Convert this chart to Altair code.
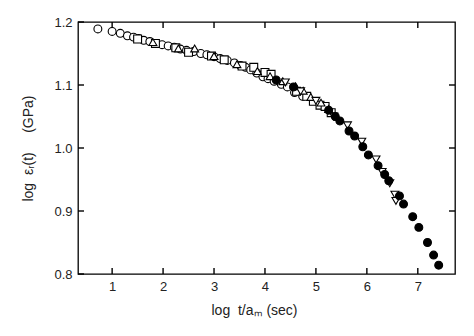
import altair as alt
import pandas as pd

# open circles
oc_x = [0.72, 1.00, 1.16, 1.30, 1.42, 1.52, 1.62, 1.74, 1.86, 1.98, 2.10, 2.22, 2.34, 2.46,
        2.60, 2.74, 2.86, 3.00, 3.12, 3.26, 3.40, 3.52, 3.62, 3.72, 3.84, 3.96, 4.06, 4.18,
        4.32, 4.44, 4.58, 4.74]
oc_y = [1.189, 1.185, 1.182, 1.178, 1.176, 1.174, 1.171, 1.169, 1.166, 1.164, 1.162, 1.160,
        1.157, 1.155, 1.153, 1.150, 1.148, 1.145, 1.142, 1.139, 1.135, 1.131, 1.128, 1.124,
        1.119, 1.113, 1.110, 1.106, 1.101, 1.097, 1.088, 1.082]
# open squares
sq_x = [1.50, 1.85, 2.25, 2.50, 2.95, 3.20, 3.55, 3.78, 4.00, 4.12, 4.62, 4.82, 4.95, 5.08,
        5.18, 5.30]
sq_y = [1.173, 1.166, 1.159, 1.152, 1.146, 1.140, 1.130, 1.128, 1.120, 1.117, 1.090, 1.082,
        1.074, 1.068, 1.066, 1.056]
# open triangles (up)
tu_x = [1.80, 2.30, 2.62, 3.00, 3.45, 3.85, 4.10, 4.35, 4.60, 4.75, 4.90, 5.10, 5.25]
tu_y = [1.168, 1.158, 1.158, 1.146, 1.133, 1.122, 1.114, 1.106, 1.098, 1.091, 1.081, 1.072,
        1.062]
# open triangles (down)
td_x = [4.40, 4.70, 5.00, 5.35, 5.62, 5.90, 6.18, 6.30, 6.45, 6.55, 6.57]
td_y = [1.104, 1.090, 1.075, 1.050, 1.036, 1.010, 0.982, 0.962, 0.944, 0.926, 0.916]
# filled circles
fc_x = [4.22, 4.56, 5.25, 5.38, 5.47, 5.65, 5.76, 5.92, 6.03, 6.22, 6.35, 6.43, 6.64, 6.72,
        6.90, 7.02, 7.19, 7.31, 7.41]
fc_y = [1.108, 1.097, 1.060, 1.050, 1.043, 1.027, 1.019, 1.002, 0.989, 0.972, 0.958, 0.948,
        0.924, 0.911, 0.891, 0.874, 0.850, 0.830, 0.814]

series = ["oc", "sq", "tu", "td", "fc"]
xs = [oc_x, sq_x, tu_x, td_x, fc_x]
ys = [oc_y, sq_y, tu_y, td_y, fc_y]
rows = []
for s, xx, yy in zip(series, xs, ys):
    for a, b in zip(xx, yy):
        rows.append({"series": s, "x": a, "y": b})
df = pd.DataFrame(rows)

x_ticks = [1, 2, 3, 4, 5, 6, 7]
y_ticks = [0.8, 0.9, 1.0, 1.1, 1.2]
y_ticks_right = [0.9, 1.0, 1.1]

W, H = 377, 252
FONT = "Liberation Sans"
NB = "\u00a0"
X_DOMAIN = [0.33, 7.73]
Y_DOMAIN = [0.8, 1.2]
TL = 6  # tick length in pixels
dx = (X_DOMAIN[1] - X_DOMAIN[0]) * TL / W
dy = (Y_DOMAIN[1] - Y_DOMAIN[0]) * TL / H

# tick segments (start/end along the frame edges, pointing inward)
tick_rows = []
for v in x_ticks:
    tick_rows.append({"x": v, "x2": v, "y": Y_DOMAIN[0], "y2": Y_DOMAIN[0] + dy})
    tick_rows.append({"x": v, "x2": v, "y": Y_DOMAIN[1], "y2": Y_DOMAIN[1] - dy})
for v in y_ticks:
    tick_rows.append({"x": X_DOMAIN[0], "x2": X_DOMAIN[0] + dx, "y": v, "y2": v})
for v in y_ticks_right:
    tick_rows.append({"x": X_DOMAIN[1], "x2": X_DOMAIN[1] - dx, "y": v, "y2": v})
tdf = pd.DataFrame(tick_rows)

xscale = alt.Scale(domain=X_DOMAIN, nice=False, zero=False)
yscale = alt.Scale(domain=Y_DOMAIN, nice=False, zero=False)

xaxis = alt.Axis(orient="bottom", values=x_ticks, ticks=False, domain=False, grid=False,
                 labelPadding=6, labelFontSize=13, labelFont=FONT, labelColor="#222",
                 title="log" + NB * 2 + "t/aₘ (sec)", titleFont=FONT, titleFontSize=14,
                 titleFontWeight="normal", titleColor="#222", titlePadding=10, titleX=176)
yaxis = alt.Axis(orient="left", values=y_ticks, ticks=False, domain=False, grid=False,
                 format=".1f", labelPadding=6, labelFontSize=13, labelFont=FONT,
                 labelColor="#222",
                 title="log" + NB * 2 + "εᵣ(t)" + NB * 5 + "(GPa)", titleFont=FONT,
                 titleFontSize=14, titleFontWeight="normal", titleColor="#222",
                 titlePadding=18)

points = alt.Chart(df).mark_point(filled=True, stroke="black", strokeWidth=1.1, size=62,
                                  opacity=1).encode(
    x=alt.X("x:Q", scale=xscale, axis=xaxis),
    y=alt.Y("y:Q", scale=yscale, axis=yaxis),
    shape=alt.Shape("series:N", scale=alt.Scale(domain=series,
                    range=["circle", "square", "triangle-up", "triangle-down", "circle"]),
                    legend=None),
    fill=alt.Fill("series:N", scale=alt.Scale(domain=series,
                  range=["white", "white", "white", "white", "black"]), legend=None),
)

ticks = alt.Chart(tdf).mark_rule(color="black", strokeWidth=1.4).encode(
    x=alt.X("x:Q", scale=xscale, axis=xaxis),
    x2="x2:Q",
    y=alt.Y("y:Q", scale=yscale, axis=yaxis),
    y2="y2:Q",
)

chart = alt.layer(points, ticks).properties(
    width=W, height=H,
    autosize=alt.AutoSizeParams(type="none"),
    padding={"left": 78, "top": 22, "right": 19, "bottom": 62},
    background="white",
).configure_view(stroke="black", strokeWidth=1.3)

chart.save("out.html", embed_options={"renderer": "svg", "actions": False})
